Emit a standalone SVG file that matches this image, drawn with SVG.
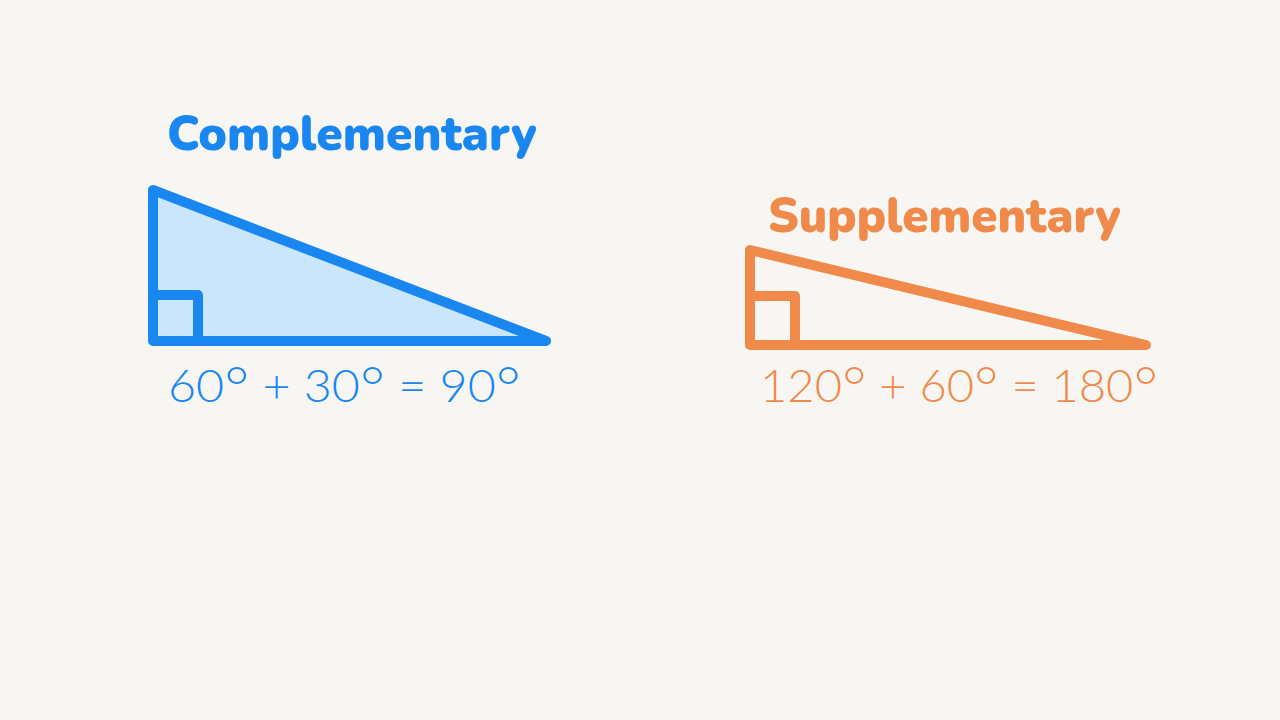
<svg xmlns="http://www.w3.org/2000/svg" width="1280" height="720" viewBox="0 0 1280 720">
<style>
.title{font-family:"Nunito","Lato","Noto Sans",sans-serif;font-weight:900;font-size:50px}
.eq{font-family:"Lato","Noto Sans",sans-serif;font-weight:300;font-size:46px}
.deg{font-size:58px}
.blue{fill:#1a86f0}
.orange{fill:#f08a4b}
.tri{stroke-width:10;stroke-linejoin:round;stroke-linecap:round}
</style>
<rect width="1280" height="720" fill="#f8f6f3"/>
<g id="complementary">
<text class="title blue" x="167" y="150" textLength="370" lengthAdjust="spacingAndGlyphs">Complementary</text>
<polygon class="tri" points="153,190 153,341 546,341" fill="#cbe6fb" stroke="#1a86f0"/>
<polyline class="tri" points="153,295 198,295 198,341" fill="none" stroke="#1a86f0" stroke-linecap="butt"/>
<text class="eq blue" x="168" y="402" textLength="353" lengthAdjust="spacingAndGlyphs">60<tspan class="deg" dy="6">°</tspan><tspan dy="-6"> + 30</tspan><tspan class="deg" dy="6">°</tspan><tspan dy="-6"> = 90</tspan><tspan class="deg" dy="6">°</tspan></text>
</g>
<g id="supplementary">
<text class="title orange" x="768" y="232" textLength="353" lengthAdjust="spacingAndGlyphs">Supplementary</text>
<polygon class="tri" points="750,250 750,345 1146,345" fill="none" stroke="#f08a4b" stroke-width="9"/>
<polyline class="tri" points="750,296 795,296 795,345" fill="none" stroke="#f08a4b" stroke-width="9" stroke-linecap="butt"/>
<text class="eq orange" x="760" y="402" textLength="398" lengthAdjust="spacingAndGlyphs">120<tspan class="deg" dy="6">°</tspan><tspan dy="-6"> + 60</tspan><tspan class="deg" dy="6">°</tspan><tspan dy="-6"> = 180</tspan><tspan class="deg" dy="6">°</tspan></text>
</g>
</svg>
